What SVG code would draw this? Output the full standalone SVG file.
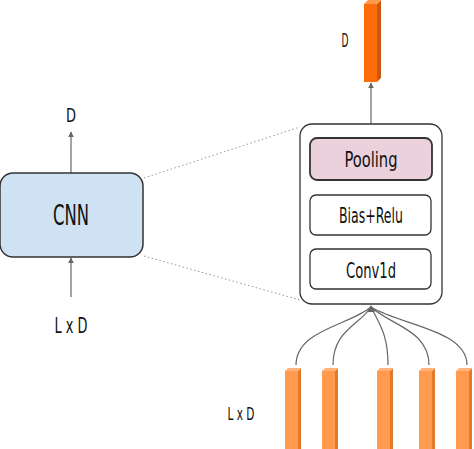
<svg xmlns="http://www.w3.org/2000/svg" width="474" height="449" viewBox="0 0 474 449">
<defs>
<marker id="ah" viewBox="0 0 10 10" refX="9" refY="5" markerWidth="6" markerHeight="6" orient="auto" markerUnits="userSpaceOnUse">
<path d="M0,0 L10,5 L0,10 z" fill="#666"/>
</marker>
<style>
.t{font-family:"DejaVu Sans Condensed","DejaVu Sans","Liberation Sans",sans-serif;fill:#111;text-anchor:middle}
.ln{stroke:#666;stroke-width:1.2;fill:none}
.dot{stroke:#999;stroke-width:1;stroke-dasharray:1.5 2.5;fill:none}
.box{fill:#fff;stroke:#333;stroke-width:1.3}
.bf{fill:#ff9a4f}
.bs{fill:#e07a2c}
.bt{fill:#ffb37a}
</style>
</defs>
<rect width="474" height="449" fill="#fff"/>
<g id="connectors">
<line class="ln" x1="71" y1="173" x2="71" y2="132" marker-end="url(#ah)"/>
<line class="ln" x1="71" y1="297" x2="71" y2="258" marker-end="url(#ah)"/>
<line class="ln" x1="371" y1="124" x2="371" y2="83" marker-end="url(#ah)"/>
<line class="dot" x1="144" y1="178" x2="300" y2="127"/>
<line class="dot" x1="144" y1="256" x2="300" y2="300"/>
<path class="ln" d="M371,307 C350,325 296,330 296,365"/>
<path class="ln" d="M371,307 C360,325 333,330 333,365"/>
<path class="ln" d="M371,307 C380,325 388,335 388,365"/>
<path class="ln" d="M371,307 C390,325 429,330 429,365"/>
<path class="ln" d="M371,307 C400,325 467,330 467,365"/>
<path d="M367,312 L371,305 L375,312 z" fill="#666"/>
</g>
<g id="cnn">
<rect x="0" y="173" width="143" height="84" rx="13" fill="#cfe2f3" stroke="#333" stroke-width="1.5"/>
<text class="t" x="71" y="225" font-size="28" textLength="36" lengthAdjust="spacingAndGlyphs">CNN</text>
</g>
<g id="label-d-left"><text class="t" x="71" y="122" font-size="19" textLength="10" lengthAdjust="spacingAndGlyphs">D</text></g>
<g id="label-lxd-left"><text class="t" x="71" y="333" font-size="22" textLength="33" lengthAdjust="spacingAndGlyphs">L x D</text></g>
<g id="block">
<rect class="box" x="300" y="124" width="142" height="180" rx="12"/>
</g>
<g id="pooling">
<rect x="310" y="138" width="122" height="42" rx="7" fill="#ead1dc" stroke="#333" stroke-width="1.8"/>
<text class="t" x="371" y="167" font-size="22" textLength="53" lengthAdjust="spacingAndGlyphs">Pooling</text>
</g>
<g id="biasrelu">
<rect class="box" x="310" y="195" width="121" height="40" rx="6"/>
<text class="t" x="371" y="223" font-size="22" textLength="64" lengthAdjust="spacingAndGlyphs">Bias+Relu</text>
</g>
<g id="conv1d">
<rect class="box" x="310" y="249" width="121" height="40" rx="6"/>
<text class="t" x="371" y="278" font-size="22" textLength="50" lengthAdjust="spacingAndGlyphs">Conv1d</text>
</g>
<g id="out-vector">
<polygon points="377,4 381,0 381,78 377,82" fill="#c85a10"/>
<polygon points="364,4 368,0 381,0 377,4" fill="#ff9a4d"/>
<rect x="364" y="4" width="13" height="78" fill="#ff6d0a"/>
</g>
<g id="label-d-right"><text class="t" x="345" y="47" font-size="19" textLength="7" lengthAdjust="spacingAndGlyphs">D</text></g>
<g id="in-vectors">
<g><polygon class="bs" points="298,371 301,368 301,449 298,449"/><polygon class="bt" points="285,371 288,368 301,368 298,371"/><rect class="bf" x="285" y="371" width="13" height="78"/></g>
<g><polygon class="bs" points="335,371 338,368 338,449 335,449"/><polygon class="bt" points="322,371 325,368 338,368 335,371"/><rect class="bf" x="322" y="371" width="13" height="78"/></g>
<g><polygon class="bs" points="390,371 393,368 393,449 390,449"/><polygon class="bt" points="377,371 380,368 393,368 390,371"/><rect class="bf" x="377" y="371" width="13" height="78"/></g>
<g><polygon class="bs" points="432,371 435,368 435,449 432,449"/><polygon class="bt" points="419,371 422,368 435,368 432,371"/><rect class="bf" x="419" y="371" width="13" height="78"/></g>
<g><polygon class="bs" points="469,371 472,368 472,449 469,449"/><polygon class="bt" points="456,371 459,368 472,368 469,371"/><rect class="bf" x="456" y="371" width="13" height="78"/></g>
</g>
<g id="label-lxd-right"><text class="t" x="241" y="420" font-size="18" textLength="27" lengthAdjust="spacingAndGlyphs">L x D</text></g>
</svg>
